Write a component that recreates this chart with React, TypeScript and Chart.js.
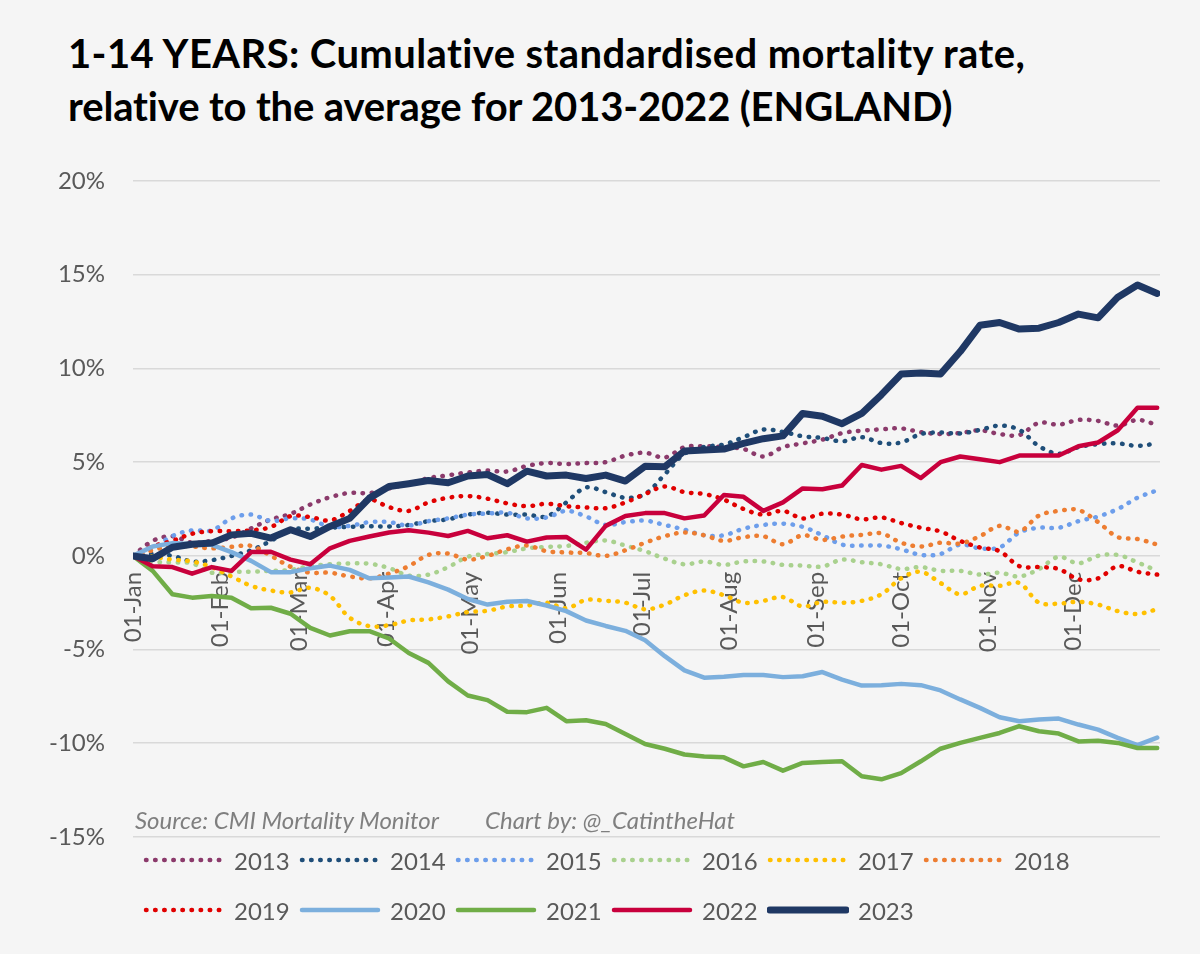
import React, { useEffect, useRef } from "react";
import { Chart, registerables } from "chart.js";

Chart.register(...registerables);

const FONT = "Lato, 'Open Sans', sans-serif";

const YEARS = ["2013", "2014", "2015", "2016", "2017", "2018", "2019", "2020", "2021", "2022", "2023"];
const COLORS = ["#8B3A6B", "#1F4E79", "#6D9EEB", "#A9D18E", "#FFC000", "#ED7D31", "#E00000", "#7CAFDD", "#70AD47", "#C8003C", "#1F3864"];
const DOTTED = [true, true, true, true, true, true, true, false, false, false, false];
const WIDTHS = [4.5, 4.5, 4.5, 4.5, 4.5, 4.5, 4.5, 4.5, 4.5, 4.5, 7];

const MONTH_DAYS = [0, 31, 59, 90, 120, 151, 181, 212, 243, 273, 304, 334];
const MONTH_LABELS = ["01-Jan", "01-Feb", "01-Mar", "01-Apr", "01-May", "01-Jun", "01-Jul", "01-Aug", "01-Sep", "01-Oct", "01-Nov", "01-Dec"];
const DAYS_PER_WEEK = 7;

const S2013 = [0, 0.8, 1.05, 0.7, 0.8, 0.97, 1.47, 1.94, 2.24, 2.74, 3.13, 3.36, 3.35, 3.6, 3.85, 4.15, 4.3, 4.45, 4.55, 4.5, 4.8, 4.95, 4.9, 4.95, 5.0, 5.35, 5.5, 5.25, 5.8, 5.85, 5.8, 5.7, 5.3, 5.8, 6.0, 6.2, 6.55, 6.68, 6.75, 6.8, 6.6, 6.5, 6.55, 6.7, 6.5, 6.45, 7.1, 7.0, 7.25, 7.2, 6.95, 7.25, 6.99];
const S2014 = [0, 0.1, 0.0, -0.3, -0.23, 0.0, 0.3, 0.8, 1.4, 1.45, 1.5, 1.55, 1.58, 1.57, 1.65, 1.85, 1.95, 2.2, 2.3, 2.2, 2.2, 2.1, 2.85, 3.65, 3.4, 3.1, 3.3, 4.35, 5.44, 5.81, 5.94, 6.33, 6.74, 6.61, 6.38, 6.29, 6.11, 6.33, 6.02, 6.05, 6.5, 6.58, 6.53, 6.72, 6.95, 6.72, 5.85, 5.45, 5.8, 5.96, 6.0, 5.87, 6.0];
const S2015 = [0, 0.4, 1.06, 1.36, 1.36, 2.0, 2.2, 1.86, 2.0, 1.94, 1.55, 1.6, 1.8, 1.8, 1.62, 1.85, 2.0, 2.2, 2.25, 2.3, 2.0, 2.05, 2.4, 2.1, 1.65, 1.8, 1.88, 1.65, 1.4, 1.1, 1.1, 1.45, 1.65, 1.72, 1.55, 1.1, 0.6, 0.55, 0.55, 0.35, 0.05, 0.1, 0.6, 0.4, 0.45, 1.25, 1.5, 1.5, 1.85, 2.1, 2.5, 3.1, 3.5];
const S2016 = [0, -0.3, -0.35, -0.4, -0.9, -0.85, -0.85, -0.8, -0.75, -0.55, -0.45, -0.4, -0.42, -0.65, -1.05, -1.0, -0.6, -0.05, 0.1, 0.2, 0.4, 0.48, 0.53, 0.7, 0.82, 0.55, 0.25, -0.15, -0.45, -0.3, -0.48, -0.3, -0.3, -0.48, -0.52, -0.57, -0.2, -0.34, -0.45, -0.7, -0.6, -0.8, -0.8, -1.0, -0.9, -1.1, -0.7, -0.05, -0.4, 0.0, 0.05, -0.35, -0.8];
const S2017 = [0, -0.05, -0.2, -0.3, -0.6, -1.1, -1.6, -1.85, -1.95, -1.7, -2.14, -3.3, -3.75, -3.7, -3.45, -3.39, -3.23, -3.0, -2.93, -2.7, -2.65, -2.5, -2.8, -2.35, -2.4, -2.5, -2.85, -2.6, -2.1, -1.85, -2.1, -2.5, -2.4, -2.2, -2.7, -2.45, -2.5, -2.4, -2.05, -1.2, -0.85, -1.45, -2.05, -1.6, -1.6, -1.45, -2.5, -2.55, -2.45, -2.6, -2.95, -3.1, -2.85];
const S2018 = [0, 0.3, 0.55, 0.5, 0.4, 0.48, 0.53, 0.0, -0.58, -0.9, -0.9, -1.1, -1.2, -0.95, -0.55, 0.05, 0.12, -0.2, 0.0, 0.35, 0.55, 0.25, 0.18, 0.15, 0.0, 0.3, 0.7, 1.05, 1.25, 1.1, 0.8, 1.0, 1.05, 0.62, 1.1, 0.85, 1.03, 1.12, 1.2, 0.7, 0.5, 0.7, 0.66, 1.05, 1.6, 1.3, 2.15, 2.4, 2.45, 1.8, 1.0, 0.9, 0.6];
const S2019 = [0, 0.5, 0.8, 1.18, 1.32, 1.32, 1.36, 1.54, 2.12, 2.07, 1.89, 2.39, 3.0, 2.6, 2.4, 2.85, 3.1, 3.19, 3.05, 2.8, 2.65, 2.78, 2.65, 2.58, 2.54, 2.85, 3.3, 3.7, 3.4, 3.3, 3.0, 2.5, 2.2, 2.4, 2.0, 2.25, 2.2, 1.95, 2.05, 1.75, 1.5, 1.3, 0.8, 0.45, 0.25, -0.55, -0.6, -0.7, -1.25, -1.2, -0.55, -0.85, -1.0];
const S2020 = [0, 0.5, 0.68, 0.62, 0.59, 0.2, -0.27, -0.87, -0.87, -0.66, -0.52, -0.75, -1.2, -1.15, -1.1, -1.42, -1.8, -2.3, -2.6, -2.45, -2.41, -2.65, -2.95, -3.45, -3.74, -4.0, -4.5, -5.35, -6.11, -6.5, -6.45, -6.36, -6.36, -6.47, -6.42, -6.2, -6.6, -6.92, -6.9, -6.83, -6.9, -7.18, -7.66, -8.11, -8.61, -8.82, -8.73, -8.68, -9.0, -9.27, -9.71, -10.1, -9.7];
const S2021 = [0, -0.8, -2.05, -2.23, -2.14, -2.23, -2.8, -2.77, -3.09, -3.84, -4.25, -4.02, -4.02, -4.41, -5.18, -5.71, -6.7, -7.45, -7.7, -8.32, -8.34, -8.11, -8.82, -8.77, -8.97, -9.5, -10.04, -10.29, -10.6, -10.7, -10.75, -11.23, -11.0, -11.46, -11.05, -11.0, -10.96, -11.76, -11.92, -11.59, -10.96, -10.29, -9.98, -9.71, -9.45, -9.09, -9.36, -9.48, -9.9, -9.86, -9.98, -10.25, -10.25];
const S2022 = [0, -0.55, -0.6, -0.95, -0.6, -0.8, 0.2, 0.22, -0.2, -0.45, 0.4, 0.8, 1.03, 1.25, 1.37, 1.24, 1.06, 1.33, 0.94, 1.1, 0.76, 0.98, 1.01, 0.33, 1.6, 2.13, 2.28, 2.28, 2.0, 2.15, 3.25, 3.15, 2.4, 2.85, 3.6, 3.55, 3.75, 4.85, 4.6, 4.8, 4.15, 5.0, 5.3, 5.15, 5.0, 5.35, 5.35, 5.35, 5.85, 6.05, 6.7, 7.9, 7.9];
const S2023 = [0, -0.15, 0.46, 0.62, 0.68, 1.12, 1.2, 0.95, 1.39, 1.03, 1.57, 2.0, 3.08, 3.7, 3.85, 4.02, 3.9, 4.26, 4.34, 3.85, 4.52, 4.26, 4.31, 4.13, 4.31, 3.99, 4.78, 4.75, 5.6, 5.65, 5.7, 6.0, 6.25, 6.4, 7.6, 7.45, 7.05, 7.6, 8.6, 9.7, 9.75, 9.7, 10.9, 12.3, 12.45, 12.1, 12.15, 12.45, 12.9, 12.7, 13.8, 14.45, 14.0];

const SERIES = [S2013, S2014, S2015, S2016, S2017, S2018, S2019, S2020, S2021, S2022, S2023];

const Y_MIN = -15;
const Y_MAX = 20;
const Y_STEP = 5;

const TITLE_LINES = ["1-14 YEARS: Cumulative standardised mortality rate,", "relative to the average for 2013-2022 (ENGLAND)"];
const TITLE_SPACING = ["0.4px", "-0.15px"];
const SOURCE_TEXT = "Source: CMI Mortality Monitor";
const CREDIT_TEXT = "Chart by: @_CatintheHat";

const DOT_DASH = [0.5, 8.6];

function LegendSymbol({ i }: { i: number }) {
  const dotted = DOTTED[i];
  return (
    <svg width={82} height={14} style={{ display: "block" }}>
      <line
        x1={3}
        y1={7}
        x2={79}
        y2={7}
        stroke={COLORS[i]}
        strokeWidth={WIDTHS[i]}
        strokeLinecap="round"
        strokeDasharray={dotted ? DOT_DASH.join(" ") : undefined}
      />
    </svg>
  );
}

export default function App() {
  const canvasRef = useRef<HTMLCanvasElement | null>(null);

  useEffect(() => {
    document.body.style.margin = "0";
    document.body.style.background = "#f5f5f5";
    const canvas = canvasRef.current;
    if (!canvas) return;
    Chart.defaults.font.family = FONT;
    const datasets = YEARS.map((year, i) => ({
      label: year,
      data: SERIES[i].map((v, k) => ({ x: k * DAYS_PER_WEEK, y: v })),
      borderColor: COLORS[i],
      backgroundColor: COLORS[i],
      borderWidth: WIDTHS[i],
      borderDash: DOTTED[i] ? DOT_DASH : [],
      borderCapStyle: "round" as CanvasLineCap,
      borderJoinStyle: "round" as CanvasLineJoin,
      pointRadius: 0,
      tension: DOTTED[i] ? 0.35 : 0,
      order: YEARS.length - i,
      fill: false,
    }));

    const chart = new Chart(canvas, {
      type: "line",
      data: { datasets },
      options: {
        animation: false,
        responsive: true,
        maintainAspectRatio: false,
        layout: { padding: { top: 181, bottom: 117, left: 0, right: 40 } },
        plugins: { legend: { display: false }, tooltip: { enabled: false }, title: { display: false } },
        scales: {
          x: {
            type: "linear",
            min: 0,
            max: 365,
            position: { y: 0 } as any,
            afterBuildTicks: (scale: any) => {
              scale.ticks = MONTH_DAYS.map((v) => ({ value: v }));
            },
            ticks: {
              autoSkip: false,
              minRotation: 90,
              maxRotation: 90,
              padding: 16,
              color: "#595959",
              font: { family: FONT, size: 24 },
              callback: (value: any) => {
                const idx = MONTH_DAYS.indexOf(Number(value));
                return idx >= 0 ? MONTH_LABELS[idx] : "";
              },
            },
            grid: { display: false, drawTicks: false },
            border: { display: false },
          },
          y: {
            min: Y_MIN,
            max: Y_MAX,
            afterFit: (scale: any) => {
              scale.width = 133;
            },
            ticks: {
              stepSize: Y_STEP,
              padding: 28,
              color: "#595959",
              font: { family: FONT, size: 24 },
              callback: (value: any) => `${value}%`,
            },
            grid: { color: "#d9d9d9", lineWidth: 1.6, drawTicks: false },
            border: { display: false },
          },
        },
      },
    });
    return () => chart.destroy();
  }, []);

  const italicStyle: React.CSSProperties = {
    position: "absolute",
    top: 806,
    fontFamily: FONT,
    fontStyle: "italic",
    fontSize: 24,
    lineHeight: "28px",
    color: "#7f7f7f",
    whiteSpace: "nowrap",
  };

  return (
    <div style={{ position: "relative", width: 1200, height: 954, background: "#f5f5f5", overflow: "hidden", fontFamily: FONT }}>
      <div
        style={{
          position: "absolute",
          left: 68,
          top: 27,
          fontFamily: FONT,
          fontWeight: 700,
          fontSize: 40,
          lineHeight: "53px",
          color: "#000",
          whiteSpace: "nowrap",
        }}
      >
        {TITLE_LINES.map((t, i) => (
          <div key={t} style={{ letterSpacing: TITLE_SPACING[i] }}>
            {t}
          </div>
        ))}
      </div>
      <div style={{ position: "absolute", left: 0, top: 0, width: 1200, height: 954 }}>
        <canvas ref={canvasRef} />
      </div>
      <div style={{ ...italicStyle, left: 135 }}>{SOURCE_TEXT}</div>
      <div style={{ ...italicStyle, left: 485 }}>{CREDIT_TEXT}</div>
      <div
        style={{
          position: "absolute",
          left: 143,
          top: 835,
          display: "grid",
          gridTemplateColumns: "repeat(6, 156px)",
          gridAutoRows: "50px",
        }}
      >
        {YEARS.map((y, i) => (
          <div key={y} style={{ display: "flex", alignItems: "center" }}>
            <LegendSymbol i={i} />
            <span style={{ marginLeft: 9, fontFamily: FONT, fontSize: 24, color: "#595959" }}>{y}</span>
          </div>
        ))}
      </div>
    </div>
  );
}
